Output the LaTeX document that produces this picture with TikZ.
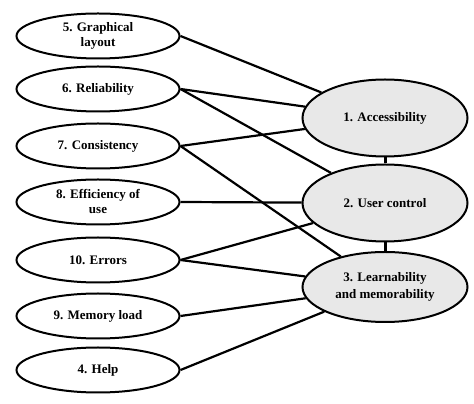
\documentclass[tikz,border=0pt]{standalone}
\usepackage{fontspec}
\setmainfont{Liberation Serif}
\usetikzlibrary{shapes.geometric}

\begin{document}
\begin{tikzpicture}[x=1pt,y=1pt,
  item/.style={ellipse,draw=black,line width=2pt,inner sep=0pt,
    minimum width=163pt,minimum height=45pt,align=center,
    font=\fontsize{13}{15}\selectfont\bfseries},
  main/.style={item,fill=black!9,minimum width=165pt,minimum height=77pt,
    font=\fontsize{13}{17}\selectfont\bfseries},
  link/.style={draw=black,line width=2.2pt}]
\useasboundingbox (0,0) rectangle (474,404);
% objects on the left:
\node[item] (h5) at (98,368) {5. Graphical\\layout};
\node[item] (h6) at (98,315) {6. Reliability};
\node[item] (h7) at (98,258) {7. Consistency};
\node[item] (h8) at (98,202) {8. Efficiency of\\use};
\node[item] (h10) at (98,144) {10. Errors};
\node[item] (h9) at (98,88) {9. Memory load};
\node[item] (h4) at (98,34) {4. Help};
% objects on the right:
\node[main] (h1) at (385,286) {1. Accessibility};
\node[main] (h2) at (385,201) {2. User control};
\node[main,minimum height=70pt] (h3) at (385,117) {3. Learnability\\and memorability};
% links:
\path[link,line width=3pt] (h1) -- (h2);
\path[link,line width=3pt] (h2) -- (h3);
\path[link] (h5.east) -- (h1);
\path[link] (h6.east) -- (h1);
\path[link] (h6.east) -- (h2);
\path[link] (h7.east) -- (h1);
\path[link] (h7.east) -- (h3);
\path[link] (h8.east) -- (h2);
\path[link] (h10.east) -- (h2);
\path[link] (h10.east) -- (h3);
\path[link] (h9.east) -- (h3);
\path[link] (h4.east) -- (h3);
\end{tikzpicture}
\end{document}
